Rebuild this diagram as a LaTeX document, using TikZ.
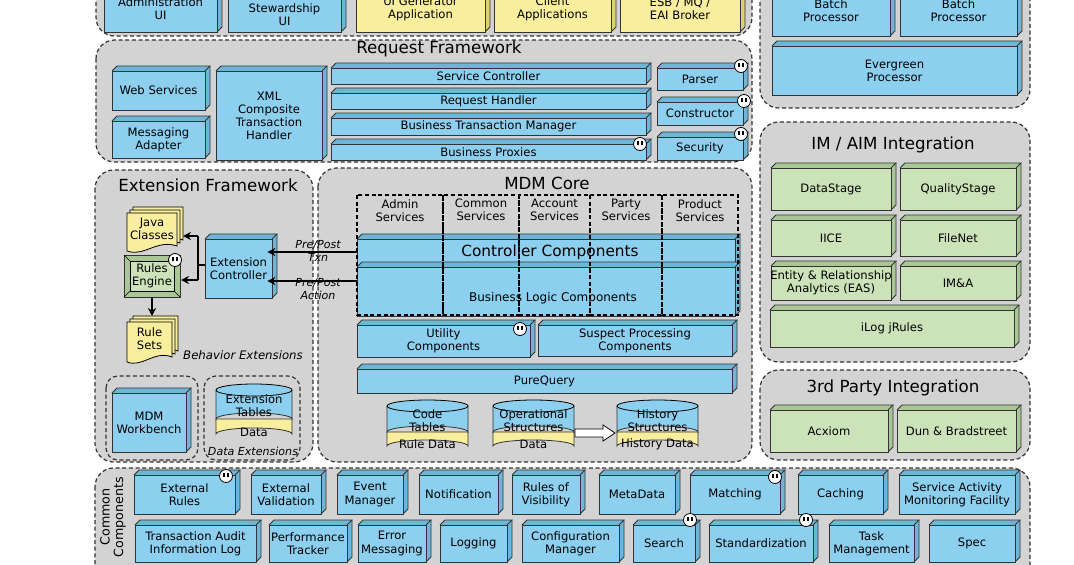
\documentclass[tikz,border=0pt]{standalone}
\usepackage{fontspec}
\setmainfont{DejaVu Sans}
\usetikzlibrary{arrows.meta}
\definecolor{cblue}{HTML}{8DCFEE}
\definecolor{cblueS}{HTML}{6FB5D8}
\definecolor{cyel}{HTML}{F8EE9E}
\definecolor{cyelS}{HTML}{DDD07A}
\definecolor{cgrn}{HTML}{CCE3BA}
\definecolor{cgrnS}{HTML}{A9C794}
\definecolor{cgray}{HTML}{D3D3D3}
\tikzset{
  cont/.style={draw=black!80,densely dashed,fill=cgray,rounded corners=14pt,line width=0.9pt},
  dbox/.style={draw=black!80,densely dashed,rounded corners=9pt,line width=0.9pt},
  face/.style={draw=black!80,line width=0.6pt},
  btxt/.style={font=\fontsize{8.7}{9.8}\selectfont,align=center,inner sep=0pt},
  ttl/.style={font=\fontsize{12.5}{14}\selectfont},
  ital/.style={font=\fontsize{8.3}{9.5}\selectfont\itshape},
  arr/.style={-{Stealth[length=6pt,width=6pt]},line width=1.6pt},
}
% box: name, x1,y1,x2,y2, front color, side color, text
\newcommand\bx[8]{%
  \fill[#7] ({#2},{#3+5})--({#2+5},{#3})--({#4},{#3})--({#4},{#5-5})--({#4-5},{#5})--({#4-5},{#3+5})--cycle;
  \draw[face] ({#2},{#3+5})--({#2+5},{#3})--({#4},{#3})--({#4-5},{#3+5});
  \draw[face] ({#4},{#3})--({#4},{#5-5})--({#4-5},{#5});
  \draw[face,fill=#6] ({#2},{#3+5}) rectangle ({#4-5},{#5});
  \node[btxt] (#1) at ({(#2+#4-5)/2},{(#3+5+#5)/2}) {#8};}
\newcommand\plug[2]{%
  \draw[fill=white,line width=0.6pt] (#1,#2) circle (6.5);
  \draw[line width=0.9pt] ({#1-2},{#2-3})--({#1-2},{#2+1}) ({#1+2},{#2-3})--({#1+2},{#2+1});}
% cylinder: name x1 y1 x2 y2 splitY text1 text2
\newcommand\cyl[8]{%
  \pgfmathsetmacro\rx{(#4-#2)/2}%
  \fill[cyel,draw=black!80,line width=0.6pt] ({#2},{#6-3})--({#2},{#5-6}) arc(180:360:{\rx} and 6)--({#4},{#6-3})--cycle;
  \fill[cblue,draw=black!80,line width=0.6pt] ({#2},{#3+6})--({#2},{#6-3}) arc(180:360:{\rx} and 6)--({#4},{#3+6})--cycle;
  \draw[fill=cblue,line width=0.6pt] ({(#2+#4)/2},{#3+6}) ellipse ({\rx} and 6);
  \node[btxt] (#1) at ({(#2+#4)/2},{(#3+#6+6)/2}) {#7};
  \node[btxt] at ({(#2+#4)/2},{(#6+#5)/2+1}) {#8};}
% doc stack
\newcommand\docpath[4]{({#1},{#2})--({#1+#3},{#2})--({#1+#3},{#2+#4-5}) .. controls ({#1+#3*0.6},{#2+#4-12}) and ({#1+#3*0.35},{#2+#4+6}) .. ({#1},{#2+#4})--cycle}
\newcommand\docs[6]{%
  \draw[fill=cyel,line width=0.6pt] \docpath{#2+6}{#3-6}{#4}{#5};
  \draw[fill=cyel,line width=0.6pt] \docpath{#2+3}{#3-3}{#4}{#5};
  \draw[fill=cyel,line width=0.6pt] \docpath{#2}{#3}{#4}{#5};
  \node[btxt] (#1) at ({#2+#4/2},{#3+#5/2-3}) {#6};}
\begin{document}
\begin{tikzpicture}[x=0.75pt,y=-0.75pt]
\useasboundingbox (0,0) rectangle (1074,564);
\clip (0,0) rectangle (1074,564);
% ---- top containers
\draw[cont] (96,-30) rectangle (752,36);
\bx{adm}{104}{-20}{222}{32}{cblue}{cblueS}{Administration\\UI}
\bx{stw}{228}{-20}{346}{32}{cblue}{cblueS}{Data\\Stewardship\\UI}
\bx{uig}{356}{-20}{490}{32}{cyel}{cyelS}{UI Generator\\Application}
\bx{cli}{494}{-20}{616}{32}{cyel}{cyelS}{Client\\Applications}
\bx{esb}{620}{-20}{745}{32}{cyel}{cyelS}{ESB / MQ /\\EAI Broker}
\draw[cont] (760,-30) rectangle (1030,108);
\bx{bp1}{772}{-20}{895}{36}{cblue}{cblueS}{Batch\\Processor}
\bx{bp2}{900}{-20}{1022}{36}{cblue}{cblueS}{Batch\\Processor}
\bx{evg}{772}{41}{1022}{95}{cblue}{cblueS}{Evergreen\\Processor}
% ---- Request framework
\draw[cont] (96,40) rectangle (752,162);
\node[ttl] at (439,49) {Request Framework};
\bx{ws}{112}{66}{210}{110}{cblue}{cblueS}{Web Services}
\bx{ma}{112}{116}{210}{158}{cblue}{cblueS}{Messaging\\Adapter}
\bx{xml}{216}{66}{327}{160}{cblue}{cblueS}{XML\\Composite\\Transaction\\Handler}
\bx{sc}{331}{63}{651}{84}{cblue}{cblueS}{Service Controller}
\bx{rh}{331}{88}{651}{109}{cblue}{cblueS}{Request Handler}
\bx{btm}{331}{113}{651}{135}{cblue}{cblueS}{Business Transaction Manager}
\bx{bpx}{331}{139}{651}{160}{cblue}{cblueS}{Business Proxies}
\bx{par}{657}{63}{748}{90}{cblue}{cblueS}{Parser}
\bx{con}{657}{97}{748}{125}{cblue}{cblueS}{Constructor}
\bx{sec}{657}{132}{748}{160}{cblue}{cblueS}{Security}
\plug{640}{144}\plug{741}{66}\plug{744}{101}\plug{741}{134}
% ---- Extension framework
\draw[cont] (95,170) rectangle (313,462);
\node[ttl] at (208,185) {Extension Framework};
\docs{jc}{127}{213}{50}{38}{Java\\Classes}
\fill[cgrnS,draw=black!80,line width=0.6pt] (124,255) rectangle (180,297);
\draw[fill=cgrn,line width=0.6pt] (130,261) rectangle (174,291);
\draw[line width=0.5pt] (124,255)--(130,261) (180,255)--(174,261) (124,297)--(130,291) (180,297)--(174,291);
\node[btxt] (re) at (152,276) {Rules\\Engine};
\plug{175}{260}
\docs{rs}{127}{322}{45}{40}{Rule\\Sets}
\bx{ec}{205}{234}{277}{298}{cblue}{cblueS}{Extension\\Controller}
\coordinate (j1) at (198,236);
\coordinate (j2) at (198,280);
\draw[line width=1.4pt] (205,265)--(198,265) (j1)--(j2);
\draw[arr] (j1)--(183,236);
\draw[arr] (j2)--(181,280);
\draw[arr] (152,297)--(152,316);
\node[ital,font=\fontsize{8.8}{10}\selectfont\itshape] at (243,355) {Behavior Extensions};
\draw[dbox] (106,376) rectangle (198,460);
\bx{wb}{112}{388}{191}{452}{cblue}{cblueS}{MDM\\Workbench}
\draw[dbox] (204,376) rectangle (300,460);
\cyl{et}{216}{384}{292}{440}{422}{Extension\\Tables}{Data}
\node[ital] at (253,451) {Data Extensions};
% ---- MDM Core
\draw[cont] (318,168) rectangle (752,462);
\node[ttl] at (547,183) {MDM Core};
\bx{ctl}{357}{234}{740}{266}{cblue}{cblueS}{}
\bx{blc}{357}{262}{740}{316}{cblue}{cblueS}{}
\node[font=\fontsize{11.5}{12}\selectfont] at (550,252) {Controller Components};
\node[btxt,font=\fontsize{9}{10}\selectfont] at (553,298) {Business Logic Components};
\foreach \a/\b/\t in {357/443/{Admin\\Services},443/519/{Common\\Services},519/590/{Account\\Services},590/662/{Party\\Services},662/738/{Product\\Services}}{
  \draw[densely dashed,line width=0.8pt] (\a,195) rectangle (\b,315);
  \node[btxt,anchor=north] at ({(\a+\b)/2},199) {\t};}
\bx{ut}{357}{320}{535}{357}{cblue}{cblueS}{Utility\\Components}
\plug{520}{329}
\bx{sp}{538}{320}{737}{356}{cblue}{cblueS}{Suspect Processing\\Components}
\bx{pq}{357}{364}{737}{393}{cblue}{cblueS}{PureQuery}
\cyl{ct}{387}{400}{468}{452}{435}{Code\\Tables}{Rule Data}
\cyl{os}{493}{400}{574}{452}{435}{Operational\\Structures}{Data}
\cyl{hs}{617}{400}{698}{452}{435}{History\\Structures}{History Data}
\draw[line width=0.6pt,fill=white] (575,429)--(603,429)--(603,425)--(615,433)--(603,441)--(603,437)--(575,437)--cycle;
\coordinate (cA) at (357,252);
\coordinate (cB) at (357,281);
\draw[arr] (cA)--(ec.east|-cA);
\draw[arr] (cB)--(ec.east|-cB);
\node[ital,align=center] at (318,251) {Pre/Post\\Txn};
\node[ital,align=center] at (318,289) {Pre/Post\\Action};
% ---- IM / AIM
\draw[cont] (760,122) rectangle (1030,362);
\node[ttl] at (893,145) {IM / AIM Integration};
\bx{ds}{771}{163}{896}{210}{cgrn}{cgrnS}{DataStage}
\bx{qs}{900}{163}{1021}{210}{cgrn}{cgrnS}{QualityStage}
\bx{ii}{771}{215}{896}{256}{cgrn}{cgrnS}{IICE}
\bx{fn}{900}{215}{1021}{256}{cgrn}{cgrnS}{FileNet}
\bx{eas}{771}{261}{896}{300}{cgrn}{cgrnS}{Entity \& Relationship\\Analytics (EAS)}
\bx{ima}{900}{261}{1021}{300}{cgrn}{cgrnS}{IM\&A}
\bx{il}{770}{305}{1019}{347}{cgrn}{cgrnS}{iLog jRules}
% ---- 3rd party
\draw[cont] (760,370) rectangle (1030,460);
\node[ttl] at (893,388) {3rd Party Integration};
\bx{ax}{770}{405}{893}{452}{cgrn}{cgrnS}{Acxiom}
\bx{db}{897}{405}{1021}{452}{cgrn}{cgrnS}{Dun \& Bradstreet}
% ---- Common components
\draw[cont] (95,468) rectangle (1030,590);
\node[btxt,rotate=90,font=\fontsize{9.5}{10}\selectfont] at (113,517) {Common\\Components};
\bx{er}{134}{470}{240}{514}{cblue}{cblueS}{External\\Rules}
\bx{ev}{251}{470}{326}{514}{cblue}{cblueS}{External\\Validation}
\bx{em}{337}{470}{408}{514}{cblue}{cblueS}{Event\\Manager}
\bx{no}{419}{470}{503}{514}{cblue}{cblueS}{Notification}
\bx{rv}{512}{470}{585}{514}{cblue}{cblueS}{Rules of\\Visibility}
\bx{md}{599}{470}{680}{514}{cblue}{cblueS}{MetaData}
\bx{mt}{690}{470}{785}{514}{cblue}{cblueS}{Matching}
\bx{ca}{798}{470}{888}{514}{cblue}{cblueS}{Caching}
\bx{sa}{899}{470}{1020}{514}{cblue}{cblueS}{Service Activity\\Monitoring Facility}
\bx{ta}{135}{520}{261}{562}{cblue}{cblueS}{Transaction Audit\\Information Log}
\bx{pt}{269}{520}{352}{562}{cblue}{cblueS}{Performance\\Tracker}
\bx{erm}{358}{520}{431}{562}{cblue}{cblueS}{Error\\Messaging}
\bx{lg}{440}{520}{512}{562}{cblue}{cblueS}{Logging}
\bx{cm}{522}{520}{624}{562}{cblue}{cblueS}{Configuration\\Manager}
\bx{se}{633}{520}{700}{562}{cblue}{cblueS}{Search}
\bx{st}{709}{520}{818}{562}{cblue}{cblueS}{Standardization}
\bx{tm}{829}{520}{919}{562}{cblue}{cblueS}{Task\\Management}
\bx{sp2}{929}{520}{1020}{562}{cblue}{cblueS}{Spec}
\plug{226}{476}\plug{775}{477}\plug{690}{520}\plug{806}{520}
\end{tikzpicture}
\end{document}
